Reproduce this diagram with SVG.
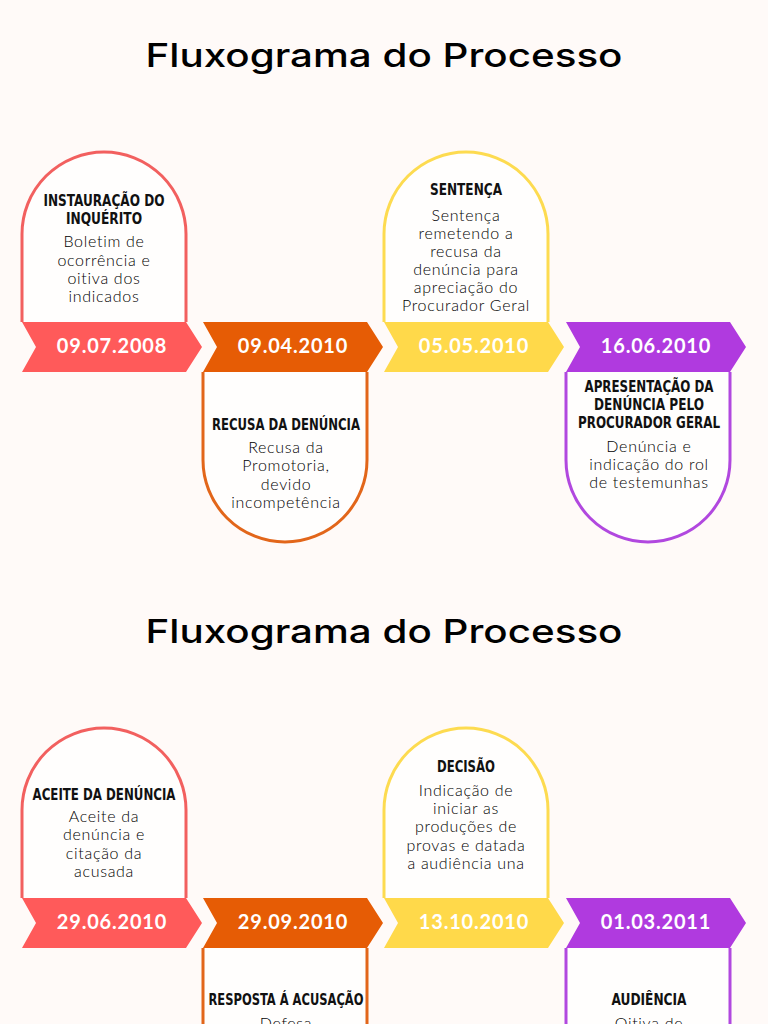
<svg xmlns="http://www.w3.org/2000/svg" width="768" height="1024" viewBox="0 0 768 1024">
<style>
.title{font-family:Inter,"Noto Sans",sans-serif;font-weight:500;font-size:33px;fill:#000;text-anchor:middle}
.head{font-family:"Liberation Sans Narrow","DejaVu Sans Condensed","Liberation Sans",sans-serif;font-weight:bold;font-size:16.5px;fill:#111;text-anchor:middle}
.body{font-family:Lato,"Noto Sans",sans-serif;font-weight:300;font-size:16px;fill:#000;text-anchor:middle;letter-spacing:0.7px}
.date{font-family:Lato,"Liberation Sans",sans-serif;font-weight:bold;font-size:20px;fill:#fff;text-anchor:middle;letter-spacing:0.8px}
.box{fill:#FFFEFD;stroke-width:3}
</style>
<defs>
<path id="archUp" d="M0,322 V234 A82 82 0 0 1 164,234 V322"/>
<path id="archDown" d="M0,372 V460 A82 82 0 0 0 164,460 V372"/>
<polygon id="rib" points="0,322 164,322 180,347 164,372 0,372 14,347"/>
</defs>
<rect width="768" height="1024" fill="#FFFAF8"/>

<text class="title" x="384" y="67" textLength="477" lengthAdjust="spacingAndGlyphs">Fluxograma do Processo</text>
<text class="title" x="384" y="643" textLength="477" lengthAdjust="spacingAndGlyphs">Fluxograma do Processo</text>

<g id="connectors"></g>

<!-- Section 1 -->
<g id="n1">
<use href="#archUp" x="22" class="box" stroke="#F2605F"/>
<use href="#rib" x="22" fill="#FF5A5A"/>
<text class="head" x="104" y="206" textLength="121" lengthAdjust="spacingAndGlyphs">INSTAURAÇÃO DO</text>
<text class="head" x="104" y="224" textLength="76" lengthAdjust="spacingAndGlyphs">INQUÉRITO</text>
<text class="body" x="104" y="247">Boletim de</text>
<text class="body" x="104" y="266">ocorrência e</text>
<text class="body" x="104" y="284">oitiva dos</text>
<text class="body" x="104" y="302">indicados</text>
<text class="date" x="112" y="353">09.07.2008</text>
</g>
<g id="n2">
<use href="#archDown" x="203" class="box" stroke="#E2661A"/>
<use href="#rib" x="203" fill="#E65C05"/>
<text class="head" x="286" y="430" textLength="148" lengthAdjust="spacingAndGlyphs">RECUSA DA DENÚNCIA</text>
<text class="body" x="286" y="453">Recusa da</text>
<text class="body" x="286" y="471">Promotoria,</text>
<text class="body" x="286" y="490">devido</text>
<text class="body" x="286" y="508">incompetência</text>
<text class="date" x="293" y="353">09.04.2010</text>
</g>
<g id="n3">
<use href="#archUp" x="384" class="box" stroke="#FDDB50"/>
<use href="#rib" x="384" fill="#FFD94A"/>
<text class="head" x="466" y="195" textLength="72" lengthAdjust="spacingAndGlyphs">SENTENÇA</text>
<text class="body" x="466" y="221">Sentença</text>
<text class="body" x="466" y="239">remetendo a</text>
<text class="body" x="466" y="257">recusa da</text>
<text class="body" x="466" y="275">denúncia para</text>
<text class="body" x="466" y="293">apreciação do</text>
<text class="body" x="466" y="311">Procurador Geral</text>
<text class="date" x="474" y="353">05.05.2010</text>
</g>
<g id="n4">
<use href="#archDown" x="566" class="box" stroke="#B148DF"/>
<use href="#rib" x="566" fill="#B03ADF"/>
<text class="head" x="649" y="392" textLength="129" lengthAdjust="spacingAndGlyphs">APRESENTAÇÃO DA</text>
<text class="head" x="649" y="410" textLength="110" lengthAdjust="spacingAndGlyphs">DENÚNCIA PELO</text>
<text class="head" x="649" y="428" textLength="142" lengthAdjust="spacingAndGlyphs">PROCURADOR GERAL</text>
<text class="body" x="649" y="452">Denúncia e</text>
<text class="body" x="649" y="470">indicação do rol</text>
<text class="body" x="649" y="488">de testemunhas</text>
<text class="date" x="656" y="353">16.06.2010</text>
</g>

<!-- Section 2 -->
<g id="n5" transform="translate(0,576)">
<use href="#archUp" x="22" class="box" stroke="#F2605F"/>
<use href="#rib" x="22" fill="#FF5A5A"/>
<text class="head" x="104" y="224" textLength="143" lengthAdjust="spacingAndGlyphs">ACEITE DA DENÚNCIA</text>
<text class="body" x="104" y="246">Aceite da</text>
<text class="body" x="104" y="264">denúncia e</text>
<text class="body" x="104" y="283">citação da</text>
<text class="body" x="104" y="301">acusada</text>
<text class="date" x="112" y="353">29.06.2010</text>
</g>
<g id="n6" transform="translate(0,576)">
<use href="#archDown" x="203" class="box" stroke="#E2661A"/>
<use href="#rib" x="203" fill="#E65C05"/>
<text class="head" x="286" y="429" textLength="155" lengthAdjust="spacingAndGlyphs">RESPOSTA Á ACUSAÇÃO</text>
<text class="body" x="286" y="453">Defesa</text>
<text class="date" x="293" y="353">29.09.2010</text>
</g>
<g id="n7" transform="translate(0,576)">
<use href="#archUp" x="384" class="box" stroke="#FDDB50"/>
<use href="#rib" x="384" fill="#FFD94A"/>
<text class="head" x="466" y="196" textLength="58" lengthAdjust="spacingAndGlyphs">DECISÃO</text>
<text class="body" x="466" y="220">Indicação de</text>
<text class="body" x="466" y="238">iniciar as</text>
<text class="body" x="466" y="256">produções de</text>
<text class="body" x="466" y="275">provas e datada</text>
<text class="body" x="466" y="293">a audiência una</text>
<text class="date" x="474" y="353">13.10.2010</text>
</g>
<g id="n8" transform="translate(0,576)">
<use href="#archDown" x="566" class="box" stroke="#B148DF"/>
<use href="#rib" x="566" fill="#B03ADF"/>
<text class="head" x="649" y="429" textLength="75" lengthAdjust="spacingAndGlyphs">AUDIÊNCIA</text>
<text class="body" x="649" y="453">Oitiva de</text>
<text class="date" x="656" y="353">01.03.2011</text>
</g>
</svg>
